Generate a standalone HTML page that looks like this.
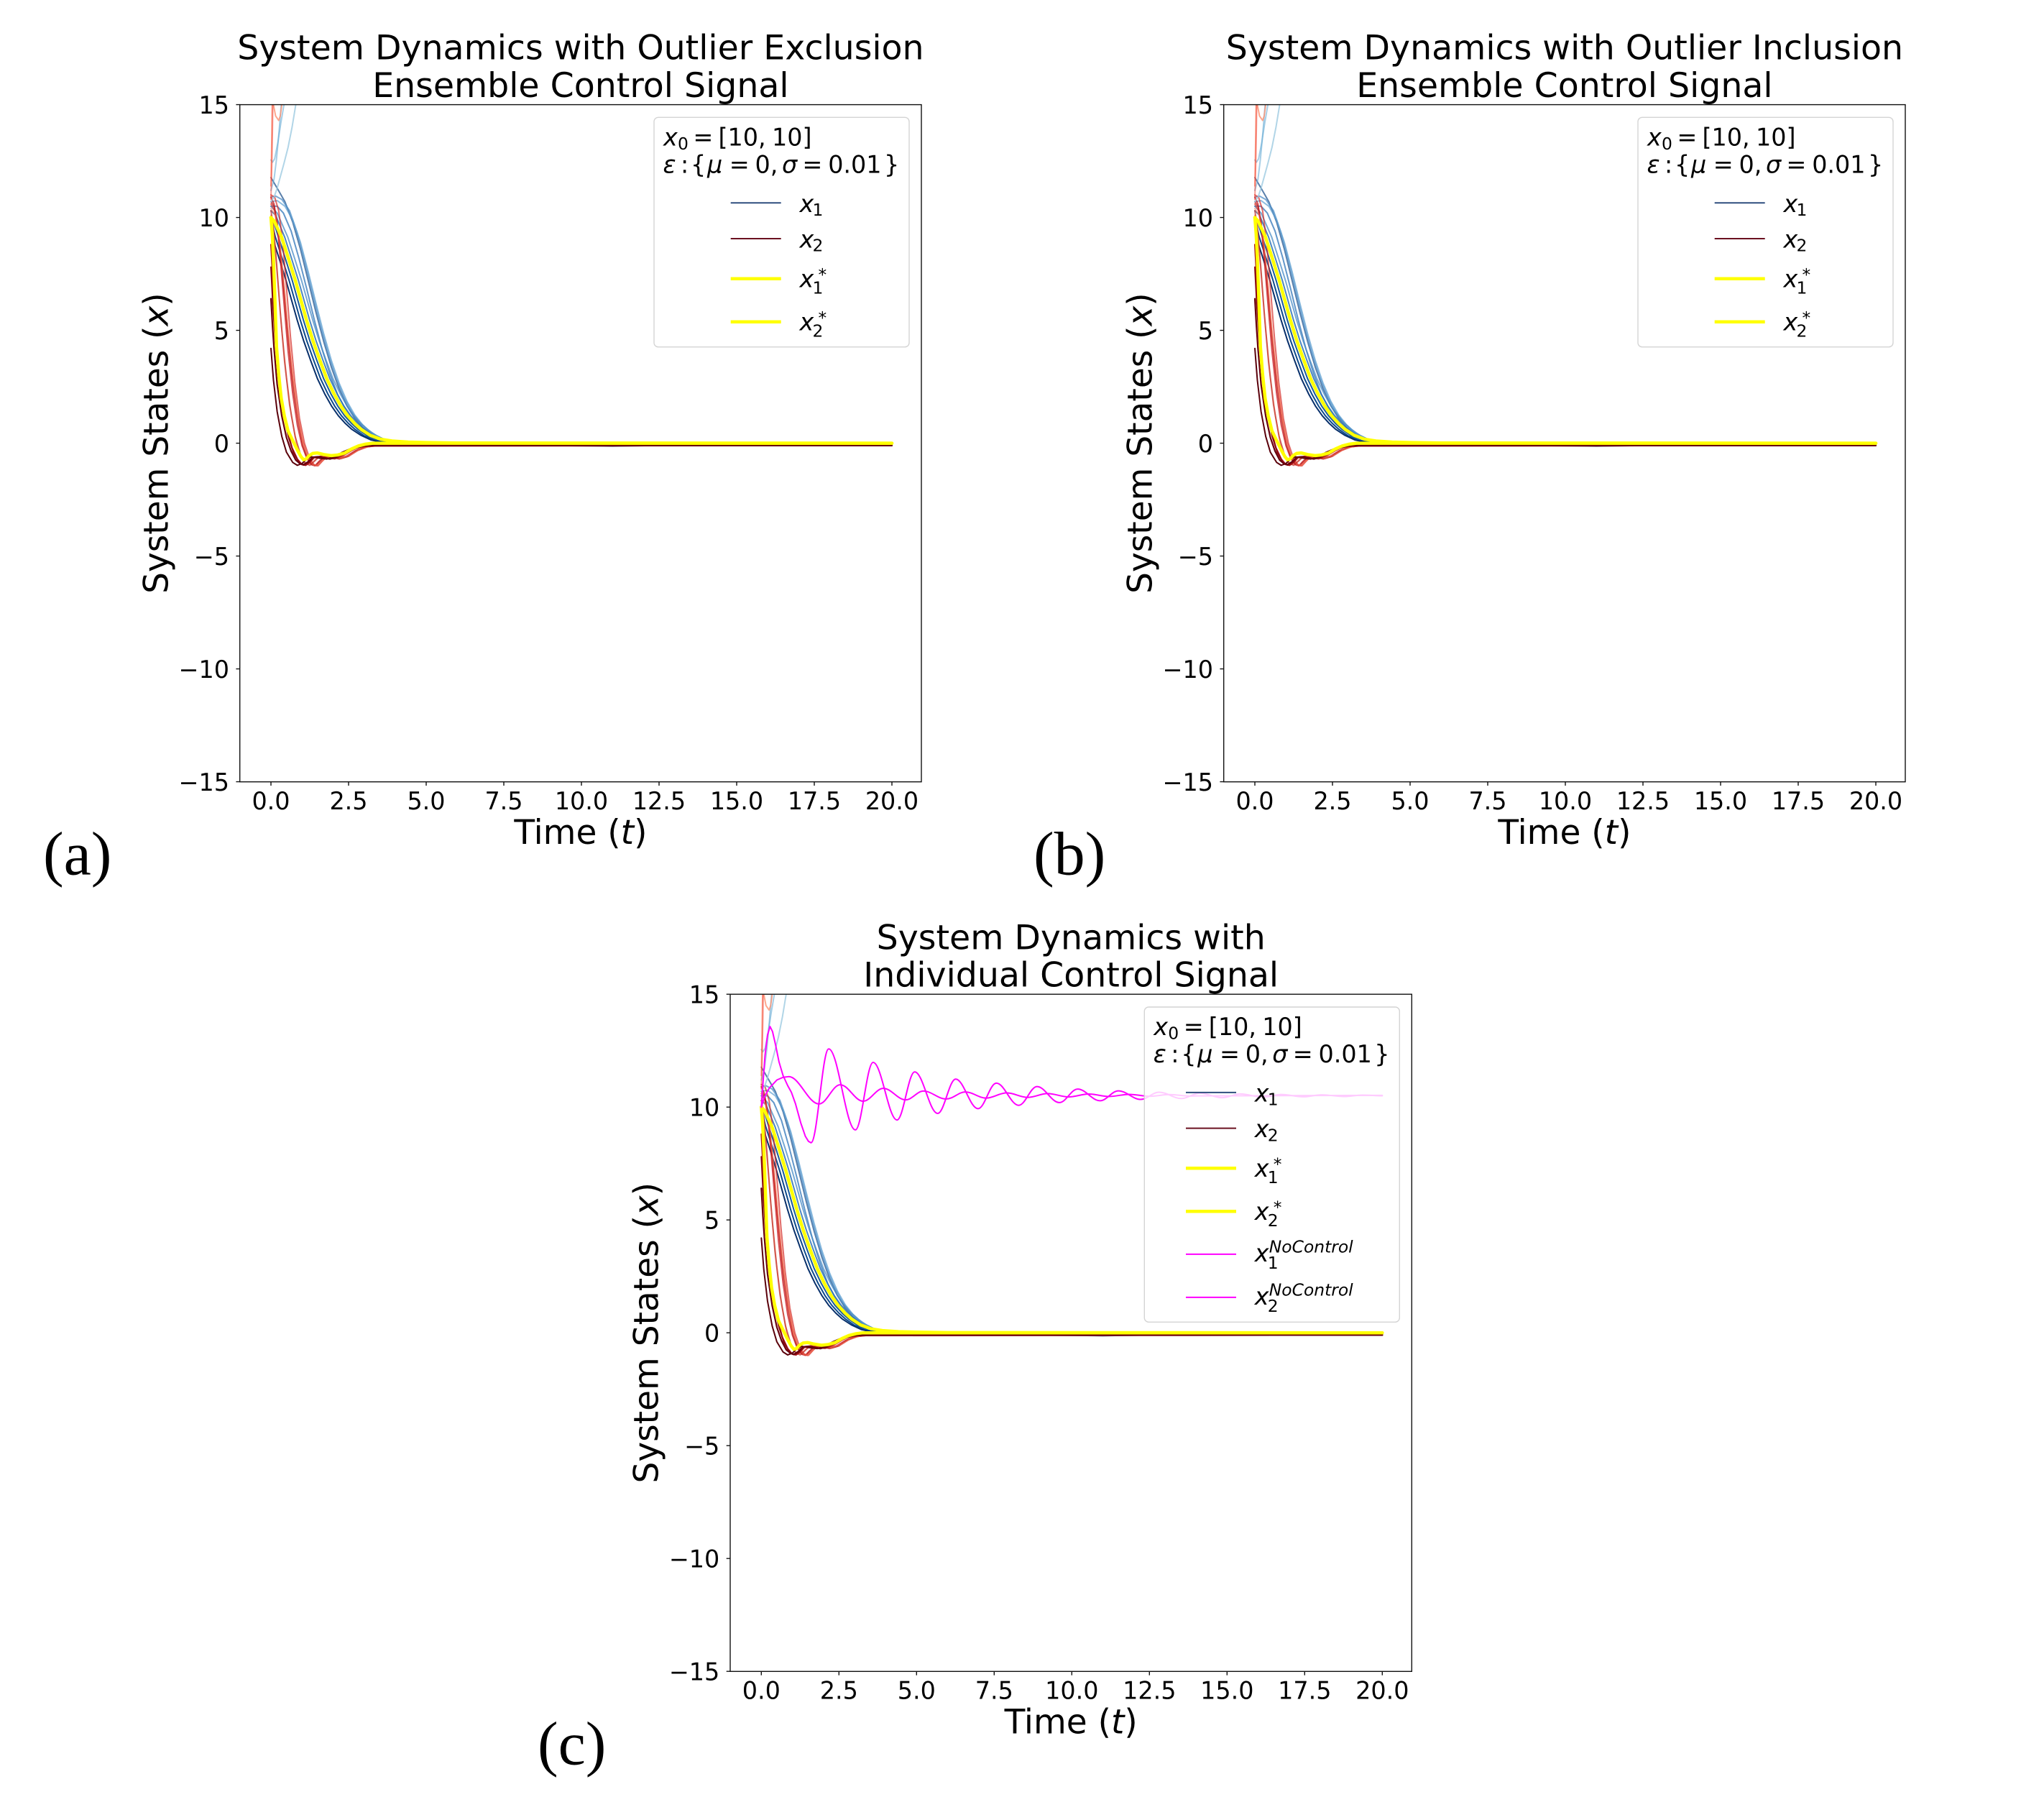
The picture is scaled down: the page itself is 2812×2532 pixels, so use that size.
<!DOCTYPE html>
<html>
<head>
<meta charset="utf-8">
<style>
  html, body { margin: 0; padding: 0; background: #ffffff; }
  svg { display: block; }
  .t { font-family: "DejaVu Sans", "Liberation Sans", sans-serif; fill: #000; }
  .lbl { font-family: "Liberation Serif", "DejaVu Serif", serif; fill: #000; }
</style>
</head>
<body>
<svg width="2812" height="2532" viewBox="0 0 2812 2532" xmlns="http://www.w3.org/2000/svg">
<rect x="0" y="0" width="2812" height="2532" fill="#ffffff"/>
<defs>
  <clipPath id="clip"><rect x="333.7" y="145.6" width="948.3" height="942.1"/></clipPath>
  <g id="ens" transform="translate(377 616.6) scale(43.2 -31.4)" fill="none" stroke-linejoin="round" stroke-linecap="round">
    <!-- blue x1 family -->
    <path vector-effect="non-scaling-stroke" stroke="#3d6a9c" stroke-opacity="0.85" stroke-width="2" d="M0,11.77 L0.2,11.3 L0.45,10.7 L0.7,9.8 L0.95,8.6 L1.2,7.2 L1.45,5.8 L1.7,4.5 L1.95,3.35 L2.2,2.4 L2.45,1.65 L2.7,1.1 L2.95,0.7 L3.25,0.38 L3.6,0.16 L4,0.03 L4.6,-0.05 L5.5,-0.08 L20,-0.08"/>
    <path vector-effect="non-scaling-stroke" stroke="#4f8fc8" stroke-opacity="0.75" stroke-width="2" d="M0,10.9 L0.15,10.95 L0.35,10.8 L0.6,10.3 L0.85,9.3 L1.1,8 L1.35,6.6 L1.6,5.2 L1.85,3.95 L2.1,2.9 L2.35,2.05 L2.6,1.4 L2.85,0.92 L3.1,0.58 L3.4,0.3 L3.8,0.1 L4.3,-0.02 L5,-0.07 L20,-0.08"/>
    <path vector-effect="non-scaling-stroke" stroke="#5e9fd2" stroke-opacity="0.7" stroke-width="2" d="M0,10.7 L0.2,10.75 L0.45,10.5 L0.7,9.9 L0.95,8.9 L1.2,7.6 L1.45,6.2 L1.7,4.85 L1.95,3.65 L2.2,2.65 L2.45,1.85 L2.7,1.25 L2.95,0.82 L3.25,0.45 L3.6,0.2 L4,0.05 L4.6,-0.04 L20,-0.08"/>
    <path vector-effect="non-scaling-stroke" stroke="#3c7dbd" stroke-opacity="0.8" stroke-width="2" d="M0,10.5 L0.2,10.5 L0.4,10.2 L0.65,9.4 L0.9,8.2 L1.15,6.85 L1.4,5.45 L1.65,4.15 L1.9,3.05 L2.15,2.15 L2.4,1.5 L2.65,1 L2.9,0.65 L3.2,0.35 L3.6,0.12 L4.1,0 L20,-0.08"/>
    <path vector-effect="non-scaling-stroke" stroke="#4a8cc6" stroke-opacity="0.75" stroke-width="2" d="M0,10.5 L0.2,10.2 L0.54,9.14 L0.76,8.2 L0.99,7.19 L1.34,5.48 L1.55,4.55 L1.78,3.66 L2,2.85 L2.23,2.19 L2.45,1.65 L2.67,1.22 L2.9,0.87 L3.11,0.61 L3.4,0.33 L3.73,0.12 L4.1,0.02 L4.6,-0.04 L5.3,-0.07 L20,-0.08"/>
    <path vector-effect="non-scaling-stroke" stroke="#2f73b4" stroke-opacity="0.85" stroke-width="2" d="M0,10.3 L0.15,10.1 L0.44,9.14 L0.66,8.2 L0.89,7.19 L1.24,5.48 L1.45,4.55 L1.68,3.66 L1.9,2.85 L2.13,2.19 L2.35,1.65 L2.57,1.22 L2.8,0.87 L3.01,0.61 L3.3,0.33 L3.63,0.12 L4,0.02 L4.5,-0.04 L5.2,-0.07 L20,-0.08"/>
    <path vector-effect="non-scaling-stroke" stroke="#1c5c9c" stroke-width="2" d="M0,10 L0.1,9.75 L0.24,9.14 L0.46,8.2 L0.69,7.19 L1.04,5.48 L1.25,4.55 L1.48,3.66 L1.7,2.85 L1.93,2.19 L2.15,1.65 L2.37,1.22 L2.6,0.87 L2.81,0.61 L3.1,0.33 L3.43,0.12 L3.8,0.02 L4.3,-0.04 L5,-0.07 L20,-0.08"/>
    <path vector-effect="non-scaling-stroke" stroke="#0d4a8a" stroke-width="2" d="M0,10 L0.06,9.6 L0.14,9.14 L0.36,8.2 L0.59,7.19 L0.94,5.48 L1.15,4.55 L1.38,3.66 L1.6,2.85 L1.83,2.19 L2.05,1.65 L2.27,1.22 L2.5,0.87 L2.71,0.61 L3,0.33 L3.33,0.12 L3.7,0.02 L4.2,-0.04 L5,-0.07 L20,-0.08"/>
    <path vector-effect="non-scaling-stroke" stroke="#08306b" stroke-width="2" d="M0,10 L0.04,9.14 L0.26,8.2 L0.49,7.19 L0.84,5.48 L1.05,4.55 L1.28,3.66 L1.5,2.85 L1.73,2.19 L1.95,1.65 L2.17,1.22 L2.4,0.87 L2.61,0.61 L2.9,0.35 L3.23,0.14 L3.6,0.03 L4.1,-0.03 L5,-0.07 L9,-0.1 L11,-0.13 L13,-0.09 L20,-0.08"/>
    <!-- red x2 family -->
    <path vector-effect="non-scaling-stroke" stroke="#f0654a" stroke-opacity="0.6" stroke-width="2" d="M0,10.1 L0.1,9.2 L0.22,7.2 L0.35,5 L0.5,2.9 L0.66,1.2 L0.82,0 L1,-0.7 L1.15,-0.95 L1.3,-0.9 L1.45,-0.7 L1.65,-0.58 L1.9,-0.66 L2.15,-0.66 L2.45,-0.45 L2.75,-0.22 L3.1,-0.12 L20,-0.1"/>
    <path vector-effect="non-scaling-stroke" stroke="#e0392b" stroke-opacity="0.7" stroke-width="2" d="M0,10.6 L0.12,10.3 L0.25,9.2 L0.38,7.4 L0.52,5.2 L0.68,3.1 L0.85,1.3 L1,0.2 L1.15,-0.5 L1.32,-0.9 L1.48,-1 L1.6,-0.85 L1.75,-0.62 L1.95,-0.58 L2.2,-0.66 L2.5,-0.55 L2.8,-0.3 L3.1,-0.16 L3.5,-0.1 L20,-0.1"/>
    <path vector-effect="non-scaling-stroke" stroke="#cb181d" stroke-opacity="0.75" stroke-width="2" d="M0,10.9 L0.1,10.6 L0.2,9.7 L0.3,8.2 L0.42,6.2 L0.55,4.1 L0.7,2.2 L0.85,0.8 L1,-0.1 L1.15,-0.65 L1.3,-0.95 L1.42,-1 L1.55,-0.8 L1.7,-0.62 L1.9,-0.6 L2.15,-0.68 L2.4,-0.6 L2.7,-0.35 L3,-0.18 L3.4,-0.1 L20,-0.1"/>
    <path vector-effect="non-scaling-stroke" stroke="#d42d2a" stroke-opacity="0.7" stroke-width="2" d="M0,11 L0.12,10.9 L0.25,10.3 L0.38,8.9 L0.5,6.9 L0.63,4.7 L0.77,2.7 L0.92,1.1 L1.08,0 L1.25,-0.7 L1.4,-0.98 L1.52,-1 L1.65,-0.8 L1.8,-0.6 L2,-0.58 L2.25,-0.68 L2.5,-0.58 L2.8,-0.32 L3.1,-0.16 L3.5,-0.1 L20,-0.1"/>
    <path vector-effect="non-scaling-stroke" stroke="#b3191e" stroke-opacity="0.7" stroke-width="2" d="M0,10.7 L0.1,10.5 L0.2,9.8 L0.32,8.3 L0.45,6.3 L0.58,4.3 L0.72,2.4 L0.88,0.9 L1.02,-0.1 L1.18,-0.7 L1.33,-0.95 L1.45,-0.97 L1.58,-0.8 L1.72,-0.6 L1.95,-0.6 L2.2,-0.7 L2.45,-0.6 L2.75,-0.33 L3.05,-0.16 L3.45,-0.1 L20,-0.1"/>
    <path vector-effect="non-scaling-stroke" stroke="#fb7a5a" stroke-opacity="0.55" stroke-width="2" d="M0,10.4 L0.14,10.1 L0.28,9 L0.42,7.1 L0.56,4.9 L0.72,2.8 L0.88,1.1 L1.04,-0.05 L1.2,-0.65 L1.36,-0.95 L1.5,-0.98 L1.62,-0.82 L1.78,-0.6 L2,-0.58 L2.25,-0.66 L2.55,-0.52 L2.85,-0.28 L3.2,-0.13 L20,-0.1"/>
    <path vector-effect="non-scaling-stroke" stroke="#c0302a" stroke-opacity="0.7" stroke-width="2" d="M0,10.3 L0.08,9.6 L0.18,8 L0.3,5.8 L0.44,3.6 L0.6,1.7 L0.78,0.3 L0.95,-0.5 L1.1,-0.88 L1.25,-0.98 L1.4,-0.8 L1.55,-0.6 L1.8,-0.62 L2.05,-0.7 L2.3,-0.58 L2.6,-0.32 L2.9,-0.16 L3.3,-0.1 L20,-0.1"/>
    <path vector-effect="non-scaling-stroke" stroke="#a50f15" stroke-width="2" d="M0,8.8 L0.05,7.5 L0.12,5.6 L0.22,3.6 L0.35,1.9 L0.5,0.7 L0.68,-0.2 L0.85,-0.7 L1,-0.95 L1.12,-0.98 L1.25,-0.85 L1.4,-0.62 L1.6,-0.58 L1.85,-0.68 L2.1,-0.66 L2.4,-0.45 L2.7,-0.22 L3,-0.13 L3.4,-0.1 L20,-0.1"/>
    <path vector-effect="non-scaling-stroke" stroke="#8b0a12" stroke-width="2" d="M0,7.8 L0.06,6.2 L0.14,4.5 L0.25,2.8 L0.4,1.3 L0.56,0.3 L0.72,-0.4 L0.9,-0.85 L1.05,-0.97 L1.2,-0.85 L1.35,-0.65 L1.55,-0.6 L1.8,-0.68 L2.05,-0.66 L2.35,-0.45 L2.65,-0.24 L3,-0.12 L20,-0.1"/>
    <path vector-effect="non-scaling-stroke" stroke="#5a000a" stroke-width="2" d="M0,4.2 L0.08,2.8 L0.2,1.4 L0.35,0.3 L0.5,-0.4 L0.7,-0.85 L0.85,-0.98 L1,-0.9 L1.15,-0.7 L1.3,-0.6 L1.55,-0.66 L1.8,-0.7 L2.05,-0.6 L2.3,-0.4 L2.6,-0.22 L2.9,-0.12 L3.3,-0.1 L20,-0.1"/>
    <path vector-effect="non-scaling-stroke" stroke="#67000d" stroke-width="2.2" d="M0,6.4 L0.05,5.2 L0.1,4.2 L0.2,2.6 L0.35,1.2 L0.5,0.25 L0.65,-0.35 L0.8,-0.75 L0.95,-0.92 L1.05,-0.95 L1.2,-0.82 L1.35,-0.62 L1.5,-0.6 L1.7,-0.65 L1.9,-0.7 L2.1,-0.62 L2.35,-0.42 L2.6,-0.25 L2.9,-0.14 L3.3,-0.1 L20,-0.1"/>
    <!-- outliers -->
    <path vector-effect="non-scaling-stroke" stroke="#6baed6" stroke-opacity="0.6" stroke-width="2" d="M0,12.55 L0.05,12.45 L0.12,12.6 L0.22,13.3 L0.32,14.2 L0.42,15 L0.5,15.8 L0.6,17"/>
    <path vector-effect="non-scaling-stroke" stroke="#9ecae1" stroke-opacity="0.8" stroke-width="2" d="M0,10.7 L0.1,10.9 L0.2,11.3 L0.3,11.8 L0.42,12.4 L0.55,13.1 L0.68,14 L0.8,15 L0.9,16"/>
    <path vector-effect="non-scaling-stroke" stroke="#6baed6" stroke-opacity="0.6" stroke-width="2" d="M0,11.2 L0.1,11.7 L0.18,12.6 L0.26,13.8 L0.33,15 L0.4,16"/>
    <path vector-effect="non-scaling-stroke" stroke="#fb6a4a" stroke-opacity="0.6" stroke-width="2" d="M0,11.4 L0.02,13 L0.04,15 L0.05,16"/>
    <path vector-effect="non-scaling-stroke" stroke="#fc9272" stroke-opacity="0.8" stroke-width="2" d="M0.05,16 L0.08,15 L0.15,14.5 L0.25,14.3 L0.3,14.5 L0.35,15 L0.4,16"/>
    <path vector-effect="non-scaling-stroke" stroke="#ef3b2c" stroke-opacity="0.5" stroke-width="2" d="M0,10.8 L0.03,12.5 L0.05,14 L0.07,16"/>
    <!-- optimal (yellow) -->
    <path vector-effect="non-scaling-stroke" stroke="#ffff00" stroke-width="4.5" d="M0,10 L0.04,9.3 L0.08,8.17 L0.12,6.7 L0.18,4.26 L0.25,3.04 L0.33,2 L0.43,1.22 L0.55,0.55 L0.7,0.12 L0.85,-0.3 L0.97,-0.6 L1.05,-0.73 L1.13,-0.7 L1.23,-0.55 L1.35,-0.45 L1.49,-0.43 L1.7,-0.5 L1.94,-0.55 L2.15,-0.52 L2.38,-0.43 L2.6,-0.25 L2.82,-0.12 L3.05,-0.04 L3.27,0 L20,0"/>
    <path vector-effect="non-scaling-stroke" stroke="#ffff00" stroke-width="4.5" d="M0,10 L0.1,9.85 L0.34,9.14 L0.56,8.2 L0.79,7.19 L1.14,5.48 L1.35,4.55 L1.58,3.66 L1.8,2.85 L2.03,2.19 L2.25,1.65 L2.47,1.22 L2.7,0.87 L2.91,0.61 L3.2,0.35 L3.53,0.18 L3.9,0.1 L4.42,0.05 L5,0.03 L6,0.01 L20,0"/>
  </g>
  <g id="mag" transform="translate(377 616.6) scale(43.2 -31.4)" fill="none" stroke-linejoin="round" stroke-linecap="round">
    <path vector-effect="non-scaling-stroke" stroke="#ff00ff" stroke-width="2" d="M0,10 L0.05,11 L0.12,12.3 L0.2,13.2 L0.28,13.57 L0.36,13.35 L0.46,12.75 L0.57,12 L0.7,11.4 L0.85,10.95 L0.97,10.65 L1.1,10.15 L1.27,9.3 L1.42,8.7 L1.52,8.48 L1.6,8.42 C1.805,8.42 1.965,12.58 2.17,12.58 C2.48,12.58 2.72,8.99 3.03,8.99 C3.235,8.99 3.395,11.98 3.6,11.98 C3.877,11.98 4.093,9.43 4.37,9.43 C4.575,9.43 4.735,11.56 4.94,11.56 C5.206,11.56 5.414,9.72 5.68,9.72 C5.889,9.72 6.051,11.24 6.26,11.24 C6.519,11.24 6.721,9.93 6.98,9.93 C7.192,9.93 7.358,11.06 7.57,11.06 C7.829,11.06 8.031,10.08 8.29,10.08 C8.502,10.08 8.668,10.91 8.88,10.91 C9.139,10.91 9.341,10.2 9.6,10.2 C9.812,10.2 9.978,10.8 10.19,10.8 C10.449,10.8 10.651,10.28 10.91,10.28 C11.122,10.28 11.288,10.72 11.5,10.72 C11.759,10.72 11.961,10.34 12.22,10.34 C12.432,10.34 12.598,10.66 12.81,10.66 C13.069,10.66 13.271,10.38 13.53,10.38 C13.742,10.38 13.908,10.62 14.12,10.62 C14.379,10.62 14.581,10.415 14.84,10.415 C15.052,10.415 15.218,10.585 15.43,10.585 C15.689,10.585 15.891,10.44 16.15,10.44 C16.362,10.44 16.528,10.56 16.74,10.56 C16.999,10.56 17.201,10.455 17.46,10.455 C17.672,10.455 17.838,10.545 18.05,10.545 C18.309,10.545 18.511,10.467 18.77,10.467 C18.982,10.467 19.148,10.533 19.36,10.533 C19.59,10.533 19.8,10.5 20,10.5"/>
    <path vector-effect="non-scaling-stroke" stroke="#ff00ff" stroke-width="2" d="M0,10 L0.1,10.45 L0.26,10.85 L0.5,11.2 L0.7,11.32 L0.88,11.35 C1.233,11.35 1.507,10.14 1.86,10.14 C2.105,10.14 2.295,10.99 2.54,10.99 C2.806,10.99 3.014,10.26 3.28,10.26 C3.514,10.26 3.696,10.83 3.93,10.83 C4.189,10.83 4.391,10.32 4.65,10.32 C4.855,10.32 5.015,10.71 5.22,10.71 C5.483,10.71 5.687,10.36 5.95,10.36 C6.193,10.36 6.347,10.67 6.57,10.67 C6.811,10.67 6.999,10.4 7.24,10.4 C7.478,10.4 7.662,10.63 7.9,10.63 C8.145,10.63 8.335,10.43 8.58,10.43 C8.81,10.43 8.99,10.6 9.22,10.6 C9.465,10.6 9.655,10.45 9.9,10.45 C10.134,10.45 10.316,10.58 10.55,10.58 C10.784,10.58 10.966,10.47 11.2,10.47 C11.434,10.47 11.616,10.565 11.85,10.565 C12.084,10.565 12.266,10.48 12.5,10.48 C12.734,10.48 12.916,10.555 13.15,10.555 C13.384,10.555 13.566,10.49 13.8,10.49 C15,10.52 16,10.52 20,10.52"/>
  </g>
</defs>

<!-- ================= PLOT (a) ================= -->
<g>
  <g clip-path="url(#clip)"><use href="#ens"/></g>
  <rect x="333.7" y="145.6" width="948.3" height="942.1" fill="none" stroke="#111" stroke-width="1.4"/>
  <path d="M328.4,145.6H333.7M328.4,302.6H333.7M328.4,459.6H333.7M328.4,616.6H333.7M328.4,773.6H333.7M328.4,930.6H333.7M328.4,1087.6H333.7M377,1087.7V1093M485,1087.7V1093M593,1087.7V1093M701,1087.7V1093M809,1087.7V1093M917,1087.7V1093M1025,1087.7V1093M1133,1087.7V1093M1241,1087.7V1093" stroke="#111" stroke-width="1.4" fill="none"/>
  <g class="t" font-size="33.4" text-anchor="end">
    <text x="319" y="157.9">15</text>
    <text x="319" y="314.9">10</text>
    <text x="319" y="471.9">5</text>
    <text x="319" y="628.9">0</text>
    <text x="319" y="785.9">−5</text>
    <text x="319" y="942.9">−10</text>
    <text x="319" y="1099.9">−15</text>
  </g>
  <g class="t" font-size="33.4" text-anchor="middle">
    <text x="377" y="1126">0.0</text>
    <text x="485" y="1126">2.5</text>
    <text x="593" y="1126">5.0</text>
    <text x="701" y="1126">7.5</text>
    <text x="809" y="1126">10.0</text>
    <text x="917" y="1126">12.5</text>
    <text x="1025" y="1126">15.0</text>
    <text x="1133" y="1126">17.5</text>
    <text x="1241" y="1126">20.0</text>
  </g>
  <text class="t" font-size="47" text-anchor="middle" x="807.9" y="1174">Time (<tspan font-style="italic">t</tspan>)</text>
  <text class="t" font-size="47" text-anchor="middle" transform="translate(233.3 616.6) rotate(-90)">System States (<tspan font-style="italic">x</tspan>)</text>
  <text class="t" font-size="47.4" text-anchor="middle" x="807.9" y="82.7">System Dynamics with Outlier Exclusion</text>
  <text class="t" font-size="47.4" text-anchor="middle" x="807.9" y="135">Ensemble Control Signal</text>
  <!-- legend -->
  <rect x="910" y="163.3" width="355" height="319.4" rx="6" fill="#ffffff" fill-opacity="0.8" stroke="#d4d4d4" stroke-width="1.4"/>
  <g class="t" font-size="33.4">
    <text x="923" y="202.3" font-style="italic">x</text>
    <text x="943" y="207.8" font-size="23.4">0</text>
    <text x="964.4" y="202.3">=</text>
    <text x="999.5" y="202.3">[10,</text>
    <text x="1074" y="202.3">10]</text>
    <text x="922.5" y="240.6" font-style="italic">ε</text>
    <text x="947" y="240.6">:</text>
    <text x="961" y="240.6">{</text>
    <text x="984" y="240.6" font-style="italic">μ</text>
    <text x="1014.7" y="240.6">=</text>
    <text x="1050.5" y="240.6">0,</text>
    <text x="1088" y="240.6" font-style="italic">σ</text>
    <text x="1116.4" y="240.6">=</text>
    <text x="1152.2" y="240.6">0.01</text>
    <text x="1230" y="240.6">}</text>
  </g>
  <path d="M1016.7,282.3H1086.7" stroke="#2f4f7f" stroke-width="2"/>
  <path d="M1016.7,332H1086.7" stroke="#6a1020" stroke-width="2"/>
  <path d="M1016.7,387.7H1086.7" stroke="#ffff00" stroke-width="4.5"/>
  <path d="M1016.7,447.7H1086.7" stroke="#ffff00" stroke-width="4.5"/>
  <g class="t" font-size="33.4">
    <text x="1112.5" y="294.8" font-style="italic">x</text><text x="1130.5" y="300" font-size="23.4">1</text>
    <text x="1112.5" y="344.5" font-style="italic">x</text><text x="1130.5" y="349.7" font-size="23.4">2</text>
    <text x="1112.5" y="399.3" font-style="italic">x</text><text x="1130.5" y="408.3" font-size="23.4">1</text><text x="1138.5" y="390" font-size="23.4">*</text>
    <text x="1112.5" y="459.3" font-style="italic">x</text><text x="1130.5" y="468.3" font-size="23.4">2</text><text x="1138.5" y="450" font-size="23.4">*</text>
  </g>
</g>
<text class="lbl" font-size="86" x="60" y="1216.5">(a)</text>

<!-- ================= PLOT (b) ================= -->
<g transform="translate(1369 0)">
  <g clip-path="url(#clip)"><use href="#ens"/></g>
  <rect x="333.7" y="145.6" width="948.3" height="942.1" fill="none" stroke="#111" stroke-width="1.4"/>
  <path d="M328.4,145.6H333.7M328.4,302.6H333.7M328.4,459.6H333.7M328.4,616.6H333.7M328.4,773.6H333.7M328.4,930.6H333.7M328.4,1087.6H333.7M377,1087.7V1093M485,1087.7V1093M593,1087.7V1093M701,1087.7V1093M809,1087.7V1093M917,1087.7V1093M1025,1087.7V1093M1133,1087.7V1093M1241,1087.7V1093" stroke="#111" stroke-width="1.4" fill="none"/>
  <g class="t" font-size="33.4" text-anchor="end">
    <text x="319" y="157.9">15</text>
    <text x="319" y="314.9">10</text>
    <text x="319" y="471.9">5</text>
    <text x="319" y="628.9">0</text>
    <text x="319" y="785.9">−5</text>
    <text x="319" y="942.9">−10</text>
    <text x="319" y="1099.9">−15</text>
  </g>
  <g class="t" font-size="33.4" text-anchor="middle">
    <text x="377" y="1126">0.0</text>
    <text x="485" y="1126">2.5</text>
    <text x="593" y="1126">5.0</text>
    <text x="701" y="1126">7.5</text>
    <text x="809" y="1126">10.0</text>
    <text x="917" y="1126">12.5</text>
    <text x="1025" y="1126">15.0</text>
    <text x="1133" y="1126">17.5</text>
    <text x="1241" y="1126">20.0</text>
  </g>
  <text class="t" font-size="47" text-anchor="middle" x="807.9" y="1174">Time (<tspan font-style="italic">t</tspan>)</text>
  <text class="t" font-size="47" text-anchor="middle" transform="translate(233.3 616.6) rotate(-90)">System States (<tspan font-style="italic">x</tspan>)</text>
  <text class="t" font-size="47.4" text-anchor="middle" x="807.9" y="82.7">System Dynamics with Outlier Inclusion</text>
  <text class="t" font-size="47.4" text-anchor="middle" x="807.9" y="135">Ensemble Control Signal</text>
  <rect x="910" y="163.3" width="355" height="319.4" rx="6" fill="#ffffff" fill-opacity="0.8" stroke="#d4d4d4" stroke-width="1.4"/>
  <g class="t" font-size="33.4">
    <text x="923" y="202.3" font-style="italic">x</text>
    <text x="943" y="207.8" font-size="23.4">0</text>
    <text x="964.4" y="202.3">=</text>
    <text x="999.5" y="202.3">[10,</text>
    <text x="1074" y="202.3">10]</text>
    <text x="922.5" y="240.6" font-style="italic">ε</text>
    <text x="947" y="240.6">:</text>
    <text x="961" y="240.6">{</text>
    <text x="984" y="240.6" font-style="italic">μ</text>
    <text x="1014.7" y="240.6">=</text>
    <text x="1050.5" y="240.6">0,</text>
    <text x="1088" y="240.6" font-style="italic">σ</text>
    <text x="1116.4" y="240.6">=</text>
    <text x="1152.2" y="240.6">0.01</text>
    <text x="1230" y="240.6">}</text>
  </g>
  <path d="M1016.7,282.3H1086.7" stroke="#2f4f7f" stroke-width="2"/>
  <path d="M1016.7,332H1086.7" stroke="#6a1020" stroke-width="2"/>
  <path d="M1016.7,387.7H1086.7" stroke="#ffff00" stroke-width="4.5"/>
  <path d="M1016.7,447.7H1086.7" stroke="#ffff00" stroke-width="4.5"/>
  <g class="t" font-size="33.4">
    <text x="1112.5" y="294.8" font-style="italic">x</text><text x="1130.5" y="300" font-size="23.4">1</text>
    <text x="1112.5" y="344.5" font-style="italic">x</text><text x="1130.5" y="349.7" font-size="23.4">2</text>
    <text x="1112.5" y="399.3" font-style="italic">x</text><text x="1130.5" y="408.3" font-size="23.4">1</text><text x="1138.5" y="390" font-size="23.4">*</text>
    <text x="1112.5" y="459.3" font-style="italic">x</text><text x="1130.5" y="468.3" font-size="23.4">2</text><text x="1138.5" y="450" font-size="23.4">*</text>
  </g>
</g>
<text class="lbl" font-size="86" x="1438" y="1216.5">(b)</text>

<!-- ================= PLOT (c) ================= -->
<g transform="translate(682.3 1237.6)">
  <g clip-path="url(#clip)"><use href="#ens"/><use href="#mag"/></g>
  <rect x="333.7" y="145.6" width="948.3" height="942.1" fill="none" stroke="#111" stroke-width="1.4"/>
  <path d="M328.4,145.6H333.7M328.4,302.6H333.7M328.4,459.6H333.7M328.4,616.6H333.7M328.4,773.6H333.7M328.4,930.6H333.7M328.4,1087.6H333.7M377,1087.7V1093M485,1087.7V1093M593,1087.7V1093M701,1087.7V1093M809,1087.7V1093M917,1087.7V1093M1025,1087.7V1093M1133,1087.7V1093M1241,1087.7V1093" stroke="#111" stroke-width="1.4" fill="none"/>
  <g class="t" font-size="33.4" text-anchor="end">
    <text x="319" y="157.9">15</text>
    <text x="319" y="314.9">10</text>
    <text x="319" y="471.9">5</text>
    <text x="319" y="628.9">0</text>
    <text x="319" y="785.9">−5</text>
    <text x="319" y="942.9">−10</text>
    <text x="319" y="1099.9">−15</text>
  </g>
  <g class="t" font-size="33.4" text-anchor="middle">
    <text x="377" y="1126">0.0</text>
    <text x="485" y="1126">2.5</text>
    <text x="593" y="1126">5.0</text>
    <text x="701" y="1126">7.5</text>
    <text x="809" y="1126">10.0</text>
    <text x="917" y="1126">12.5</text>
    <text x="1025" y="1126">15.0</text>
    <text x="1133" y="1126">17.5</text>
    <text x="1241" y="1126">20.0</text>
  </g>
  <text class="t" font-size="47" text-anchor="middle" x="807.9" y="1174">Time (<tspan font-style="italic">t</tspan>)</text>
  <text class="t" font-size="47" text-anchor="middle" transform="translate(233.3 616.6) rotate(-90)">System States (<tspan font-style="italic">x</tspan>)</text>
  <text class="t" font-size="47.4" text-anchor="middle" x="807.9" y="82.7">System Dynamics with</text>
  <text class="t" font-size="47.4" text-anchor="middle" x="807.9" y="135">Individual Control Signal</text>
  <rect x="910" y="163.4" width="355" height="438.3" rx="6" fill="#ffffff" fill-opacity="0.8" stroke="#d4d4d4" stroke-width="1.4"/>
  <g class="t" font-size="33.4">
    <text x="923" y="202.3" font-style="italic">x</text>
    <text x="943" y="207.8" font-size="23.4">0</text>
    <text x="964.4" y="202.3">=</text>
    <text x="999.5" y="202.3">[10,</text>
    <text x="1074" y="202.3">10]</text>
    <text x="922.5" y="240.6" font-style="italic">ε</text>
    <text x="947" y="240.6">:</text>
    <text x="961" y="240.6">{</text>
    <text x="984" y="240.6" font-style="italic">μ</text>
    <text x="1014.7" y="240.6">=</text>
    <text x="1050.5" y="240.6">0,</text>
    <text x="1088" y="240.6" font-style="italic">σ</text>
    <text x="1116.4" y="240.6">=</text>
    <text x="1152.2" y="240.6">0.01</text>
    <text x="1230" y="240.6">}</text>
  </g>
  <path d="M967.7,282.3H1037.7" stroke="#2f4f7f" stroke-width="2"/>
  <path d="M967.7,332H1037.7" stroke="#6a1020" stroke-width="2"/>
  <path d="M967.7,387.7H1037.7" stroke="#ffff00" stroke-width="4.5"/>
  <path d="M967.7,447.7H1037.7" stroke="#ffff00" stroke-width="4.5"/>
  <path d="M967.7,507.3H1037.7" stroke="#ff00ff" stroke-width="2"/>
  <path d="M967.7,567.3H1037.7" stroke="#ff00ff" stroke-width="2"/>
  <g class="t" font-size="33.4">
    <text x="1063.5" y="294.8" font-style="italic">x</text><text x="1081.5" y="300" font-size="23.4">1</text>
    <text x="1063.5" y="344.5" font-style="italic">x</text><text x="1081.5" y="349.7" font-size="23.4">2</text>
    <text x="1063.5" y="399.3" font-style="italic">x</text><text x="1081.5" y="408.3" font-size="23.4">1</text><text x="1089.5" y="390" font-size="23.4">*</text>
    <text x="1063.5" y="459.3" font-style="italic">x</text><text x="1081.5" y="468.3" font-size="23.4">2</text><text x="1089.5" y="450" font-size="23.4">*</text>
    <text x="1063.5" y="517.3" font-style="italic">x</text><text x="1081.5" y="527.3" font-size="23.4">1</text><text x="1083.5" y="505" font-size="23.4" font-style="italic">NoControl</text>
    <text x="1063.5" y="577.3" font-style="italic">x</text><text x="1081.5" y="587.3" font-size="23.4">2</text><text x="1083.5" y="565" font-size="23.4" font-style="italic">NoControl</text>
  </g>
</g>
<text class="lbl" font-size="86" x="748" y="2454.5">(c)</text>
</svg>
</body>
</html>
